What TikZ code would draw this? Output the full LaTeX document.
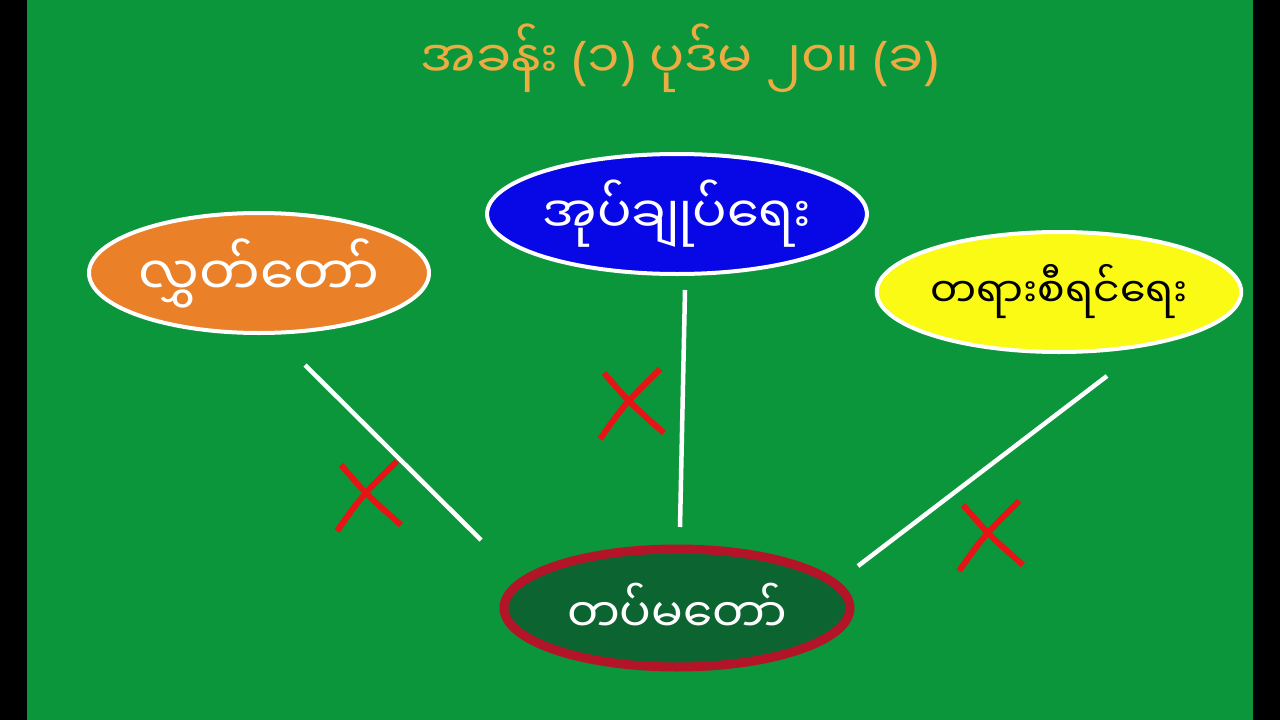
\documentclass[tikz,border=0pt]{standalone}
\usepackage{fontspec}
\newfontfamily\my[Script=Myanmar]{Noto Sans Myanmar UI}
\newfontfamily\lat{Noto Sans}
\newcommand{\pl}{{\lat(}}
\newcommand{\pr}{{\lat)}}
\definecolor{bg}{RGB}{12,150,60}
\definecolor{ttl}{RGB}{236,172,66}
\definecolor{org}{RGB}{234,128,40}
\definecolor{blu}{RGB}{8,8,230}
\definecolor{yel}{RGB}{250,250,20}
\definecolor{dgr}{RGB}{12,100,48}
\definecolor{crim}{RGB}{180,20,40}
\definecolor{xr}{RGB}{230,20,20}
\usetikzlibrary{shapes.geometric}
\tikzset{
 ell/.style={ellipse,draw=white,line width=4pt,minimum width=340pt,minimum height=120pt,inner sep=0pt},
 conn/.style={white,line width=4.5pt},
 xmark/.style={xr,line width=6pt}
}
\begin{document}
\begin{tikzpicture}[x=1pt,y=-1pt]
\useasboundingbox (0,0) rectangle (1280,720);
\fill[black] (0,0) rectangle (1280,720);
\fill[bg] (27,0) rectangle (1253,720);
\node[text=ttl,font=\my\fontsize{52}{60}\selectfont] (title) at (680,58) {အခန်း \pl၁\pr{} ပုဒ်မ ၂၀။ \pl ခ\pr};
\node[ell,fill=org,text=white,font=\my\fontsize{54}{60}\selectfont] (a) at (259,273) {လွှတ်တော်};
\node[ell,fill=blu,text=white,font=\my\fontsize{51}{60}\selectfont] (b) at (677,214) {အုပ်ချုပ်ရေး};
\node[ell,fill=yel,text=black,font=\my\fontsize{41}{48}\selectfont] (c) at (1059,292) {တရားစီရင်ရေး};
\node[ell,fill=dgr,draw=crim,line width=9pt,text=white,minimum width=346pt,minimum height=118pt,font=\my\fontsize{47}{54}\selectfont] (d) at (677,608) {တပ်မတော်};
\coordinate (a1) at (305,365); \coordinate (a2) at (481,540);
\coordinate (b1) at (685,290); \coordinate (b2) at (680,527);
\coordinate (c1) at (1107,376); \coordinate (c2) at (858,566);
\draw[conn] (a1) -- (a2);
\draw[conn] (b1) -- (b2);
\draw[conn] (c1) -- (c2);
\foreach \n/\px/\py in {x1/367/495, x2/630/403, x3/989/535}{
 \coordinate (\n) at (\px,\py);
 \draw[xmark] ([shift={(-26,-30)}]\n) .. controls ([shift={(0,0)}]\n) .. ([shift={(34,30)}]\n);
 \draw[xmark] ([shift={(30,-34)}]\n) .. controls ([shift={(-6,2)}]\n) .. ([shift={(-30,36)}]\n);
}
\end{tikzpicture}
\end{document}
